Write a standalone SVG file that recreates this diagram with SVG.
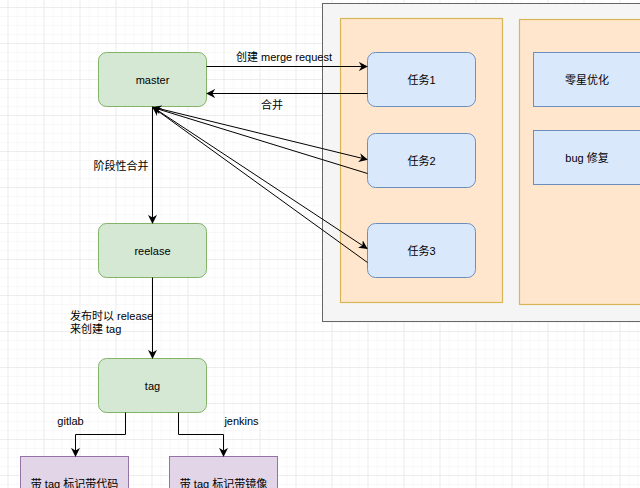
<svg xmlns="http://www.w3.org/2000/svg" width="640" height="488" viewBox="0 0 640 488">
<defs>
<pattern id="minor" x="7.5" y="7" width="9" height="9" patternUnits="userSpaceOnUse">
<path d="M0,0 V9 M0,0 H9" fill="none" stroke="#f2f2f2" stroke-width="1"/>
</pattern>
<pattern id="major" x="7.5" y="7" width="36" height="36" patternUnits="userSpaceOnUse">
<path d="M0,0 V36 M0,0 H36" fill="none" stroke="#e2e2e2" stroke-width="1"/>
</pattern>
<marker id="arr" viewBox="0 0 10 10" refX="9" refY="5" markerWidth="9" markerHeight="9" markerUnits="userSpaceOnUse" orient="auto">
<path d="M0,0 L10,5 L0,10 L3,5 z" fill="#000"/>
</marker>
<style>
text{font-family:"Liberation Sans","Noto Sans CJK SC",sans-serif;font-size:11px;fill:#000}
.c{text-anchor:middle;dominant-baseline:central}
.green{fill:#d5e8d4;stroke:#82b366;stroke-width:1}
.blue{fill:#dae8fc;stroke:#6c8ebf;stroke-width:1}
.purple{fill:#e1d5e7;stroke:#9673a6;stroke-width:1}
.orange{fill:#ffe6cc;stroke:#d6b656;stroke-width:1.2}
.edge{fill:none;stroke:#000;stroke-width:1;marker-end:url(#arr)}
</style>
</defs>
<rect width="640" height="488" fill="#fff"/>
<rect width="640" height="488" fill="url(#minor)"/>
<rect width="640" height="488" fill="url(#major)"/>

<g id="container">
<rect x="322.5" y="3.5" width="330" height="318" fill="#f5f5f5" stroke="#666666"/>
</g>
<g id="group-tasks">
<rect class="orange" x="340.5" y="18.5" width="162" height="284"/>
</g>
<g id="group-misc">
<rect class="orange" x="519.5" y="19.5" width="140" height="285"/>
</g>

<g id="master"><rect class="green" x="98.5" y="52.5" width="108" height="54" rx="8"/><text class="c" x="152.5" y="79.5">master</text></g>
<g id="release"><rect class="green" x="98.5" y="223.5" width="108" height="54" rx="8"/><text class="c" x="152.5" y="250.5">reelase</text></g>
<g id="tag"><rect class="green" x="98.5" y="358.5" width="108" height="54" rx="8"/><text class="c" x="152.5" y="385.5">tag</text></g>
<g id="task1"><rect class="blue" x="367.5" y="52.5" width="108" height="54" rx="8"/><text class="c" x="421.5" y="79.5">任务1</text></g>
<g id="task2"><rect class="blue" x="367.5" y="133.5" width="108" height="54" rx="8"/><text class="c" x="421.5" y="160.5">任务2</text></g>
<g id="task3"><rect class="blue" x="367.5" y="223.5" width="108" height="54" rx="8"/><text class="c" x="421.5" y="250.5">任务3</text></g>
<g id="misc1"><rect class="blue" x="533.5" y="52.5" width="120" height="54"/><text class="c" x="587" y="79.5">零星优化</text></g>
<g id="misc2"><rect class="blue" x="533.5" y="130.5" width="120" height="54"/><text class="c" x="587" y="157.5">bug 修复</text></g>
<g id="code"><rect class="purple" x="20.5" y="456.5" width="108" height="54"/><text class="c" x="74.5" y="483.5">带 tag 标记带代码</text></g>
<g id="image"><rect class="purple" x="169.5" y="456.5" width="108" height="54"/><text class="c" x="223.5" y="483.5">带 tag 标记带镜像</text></g>

<g id="connectors">
<path class="edge" d="M206.5,66.5 H367"/>
<path class="edge" d="M367.5,93.5 H207"/>
<path class="edge" d="M152.5,107 V223"/>
<path class="edge" d="M152.5,107 L367,159.5"/>
<path class="edge" d="M367.5,173.5 L153,107.5"/>
<path class="edge" d="M152.5,107 L367,248.5"/>
<path class="edge" d="M367.5,262.5 L153,107.5"/>
<path class="edge" d="M152.5,277.5 V358"/>
<path class="edge" d="M125.5,412.5 V434.5 H75.5 V456"/>
<path class="edge" d="M178.5,412.5 V434.5 H223.5 V456"/>
<text class="c" x="284" y="57">创建 merge request</text>
<text class="c" x="272" y="105">合并</text>
<text class="c" x="121" y="166">阶段性合并</text>
<text x="70" y="319.5">发布时以 release</text>
<text x="70" y="333">来创建 tag</text>
<text class="c" x="70.5" y="421">gitlab</text>
<text class="c" x="241.5" y="421">jenkins</text>
</g>
</svg>
